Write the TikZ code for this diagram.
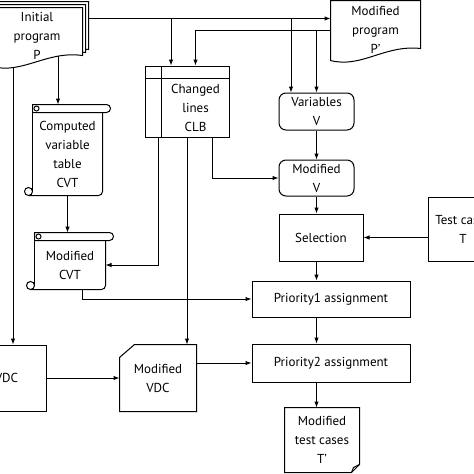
\documentclass[tikz,border=0pt]{standalone}
\usepackage{fontspec}
\setmainfont{PT Sans}
\usepackage{tikz}
\usetikzlibrary{calc,arrows.meta}
\pgfdeclarelayer{wires}
\pgfdeclarelayer{shapes}
\pgfsetlayers{wires,shapes,main}
\tikzset{
  blk/.style={draw,fill=white,inner sep=0pt,align=center},
  rnd/.style={blk,rounded corners=7pt},
  bare/.style={inner sep=0pt,align=center},
  arr/.style={-{Latex[length=6pt,width=4.5pt]}}
}
\begin{document}
\begin{tikzpicture}[x=1pt,y=-1pt,line width=1pt,font=\fontsize{13}{19}\selectfont]
\useasboundingbox (0,0) rectangle (474,474);
\clip (0,0) rectangle (474,474);

% programs
\node[bare,minimum width=90pt,minimum height=56pt] (ip) at (37,36) {Initial\\program\\P};
\node[bare,minimum width=89pt,minimum height=58pt] (mp) at (375.5,30) {Modified\\program\\P'};

% variable tables
\node[bare,minimum width=69pt,minimum height=82pt] (cvt) at (67.5,154) {Computed\\variable\\table\\CVT};
\node[bare,minimum width=70pt,minimum height=48pt] (mcvt) at (70,265) {Modified\\CVT};

% changed lines
\node[blk,minimum width=84pt,minimum height=71pt] (clb) at (187,101.5) {};
\node[bare] (clbtext) at (195.5,108) {Changed\\lines\\CLB};
\draw ($(clb.north west)+(17,0)$) -- ($(clb.south west)+(17,0)$);
\draw ($(clb.north west)+(0,13)$) -- ($(clb.north east)+(0,13)$);

% variables
\node[rnd,minimum width=75pt,minimum height=37pt] (vars) at (316.5,111.5) {Variables\\V};
\node[rnd,minimum width=75pt,minimum height=36pt] (mv) at (316.5,178) {Modified\\V};

% selection and priorities
\node[blk,minimum width=84pt,minimum height=47pt] (sel) at (321,237.5) {Selection};
\node[blk,minimum width=70pt,minimum height=64pt] (tc) at (463,229) {Test cases\\T};
\node[blk,minimum width=158pt,minimum height=36pt] (p1) at (331,299) {Priority1 assignment};
\node[blk,minimum width=158pt,minimum height=38pt] (p2) at (331,363) {Priority2 assignment};

% VDC and results
\node[blk,minimum width=79pt,minimum height=66pt] (vdc) at (6.5,378) {VDC};
\node[bare,minimum width=76pt,minimum height=66pt] (mvdc) at (158,378) {Modified\\VDC};
\node[bare,minimum width=74pt,minimum height=64pt] (mtc) at (322,440) {Modified\\test cases\\T'};

\begin{pgfonlayer}{shapes}
\begin{scope}[line width=1pt]
\foreach \d in {6,3,0}
  \draw[fill=white] ($(ip.north west)+(\d,-\d)$) -- ($(ip.north east)+(\d,-\d)$)
    -- ($(ip.south east)+(\d,-9-\d)$)
    .. controls ($(ip.south east)+(-36+\d,-14-\d)$) and ($(ip.south west)+(31.5+\d,10-\d)$)
    .. ($(ip.south west)+(\d,2-\d)$) -- cycle;

\draw[fill=white] (mp.north west) -- (mp.north east) -- ($(mp.south east)+(0,-11)$)
  .. controls ($(mp.south east)+(-36,-15)$) and ($(mp.south west)+(31,9)$)
  .. ($(mp.south west)+(0,1)$) -- cycle;

\foreach \n in {cvt,mcvt} {
  \fill[white] (\n.north west) rectangle (\n.south east);
  \draw[fill=white] ($(\n.north west)+(0,-8)$) -- ($(\n.north east)+(4,-8)$)
    arc[start angle=-90,end angle=90,radius=4] -- (\n.north west) -- cycle;
  \draw ($(\n.north west)+(4,-4)$) circle (2.5);
  \draw[rounded corners=4pt] (\n.north east) -- (\n.south east) -- ($(\n.south west)+(-4,0)$);
  \draw (\n.north west) -- ($(\n.south west)+(0,-4)$);
  \draw ($(\n.south west)+(-4,-4)$) circle (4);
}

\draw[fill=white] ($(mvdc.north west)+(15,0)$) -- (mvdc.north east) -- (mvdc.south east)
  -- (mvdc.south west) -- ($(mvdc.north west)+(0,13)$) -- cycle;

\draw[fill=white] (mtc.north west) -- (mtc.north east) -- ($(mtc.south east)+(0,-8)$)
  -- ($(mtc.south east)+(-8,0)$) -- (mtc.south west) -- cycle;
\draw ($(mtc.south east)+(0,-8)$) -- ($(mtc.south east)+(-6,-5)$) -- ($(mtc.south east)+(-8,0)$);
\end{scope}
\end{pgfonlayer}

\begin{pgfonlayer}{wires}
\begin{scope}[line width=1pt]
\coordinate (feed) at ($(ip.north east)+(0,11)$);
\coordinate (clbin) at ($(clb.north)+(-16,0)$);
\coordinate (clbin2) at ($(clb.north)+(8.5,0)$);
\coordinate (varin) at ($(vars.north)+(-25.5,0)$);
\coordinate (ipl) at ($(ip.center)+(-24,0)$);
\coordinate (ipr) at ($(ip.center)+(21,0)$);

\draw[arr] (feed) -- (feed -| mp.west);
\draw[arr] (feed -| clbin) -- (clbin);
\draw[arr] (feed -| varin) -- (varin);
\draw[arr] (mp.west) -| (clbin2);
\draw[arr] (mp.west -| vars.north) -- (vars.north);
\draw[arr,shorten >=8pt] (ipr) -- (ipr |- cvt.north);
\draw[arr] (ipl) -- (ipl |- vdc.north);
\draw[arr,shorten >=8pt] (cvt.south) -- (cvt.south |- mcvt.north);
\draw[arr] ($(clb.south)+(-29,0)$) |- (mcvt.east);
\draw[arr] (clb.south) -- (clb.south |- mvdc.north);
\draw[arr] ($(clb.south)+(25,0)$) |- (mv.west);
\draw[arr] (vars) -- (mv);
\draw[arr] (mv) -- (mv |- sel.north);
\draw[arr] (mv |- sel.south) -- (mv |- p1.north);
\draw[arr] (mv |- p1.south) -- (mv |- p2.north);
\draw[arr] (mv |- p2.south) -- (mv |- mtc.north);
\draw[arr] (sel.east -| tc.west) -- (sel.east);
\draw[arr] ($(mcvt.south)+(12,0)$) |- (p1.west);
\draw[arr] (vdc) -- (mvdc);
\draw[arr] (mvdc.east |- p2.west) -- (p2.west);
\end{scope}
\end{pgfonlayer}
\end{tikzpicture}
\end{document}
